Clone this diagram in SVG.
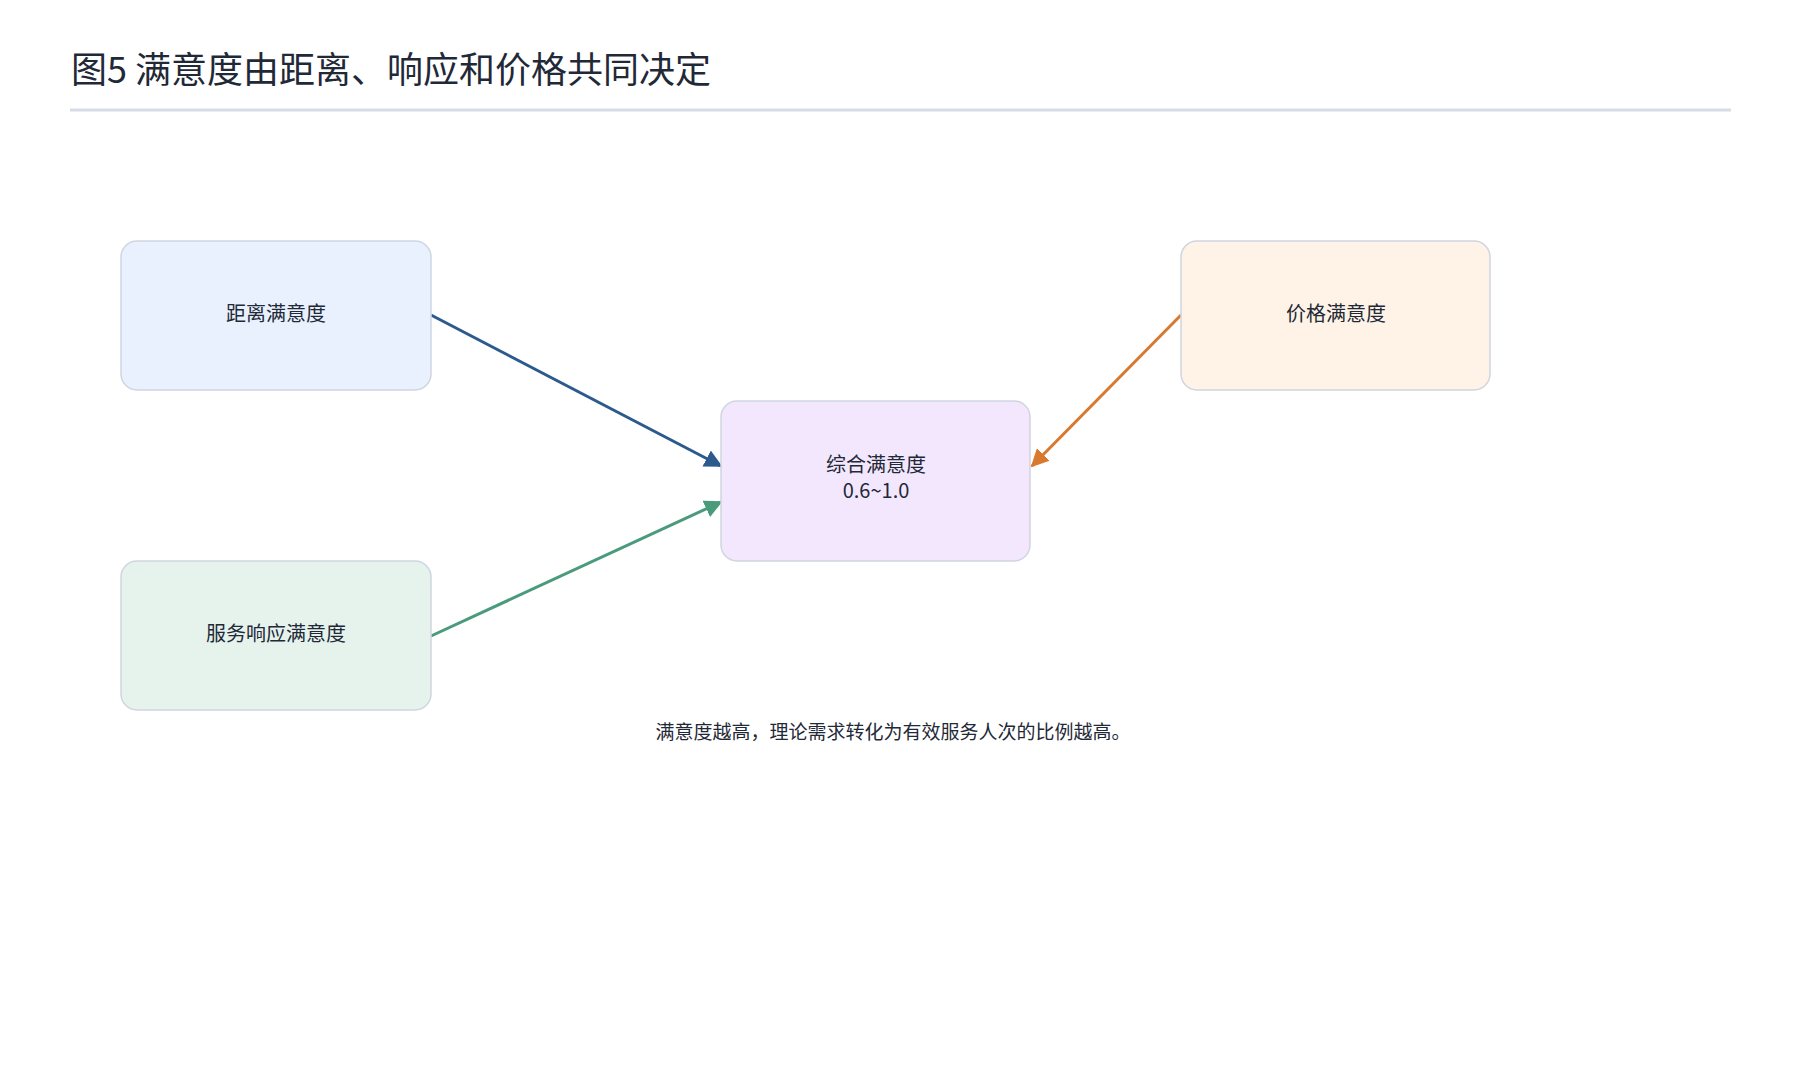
<svg xmlns="http://www.w3.org/2000/svg" width="1800" height="1080" viewBox="0 0 1800 1080">
<style>
text{font-family:"Noto Sans CJK SC","Noto Sans",sans-serif;fill:#1f2937}
.n{font-size:20px;text-anchor:middle}
.box{stroke:#cfd5e0;stroke-width:1.5}
.e{fill:none;stroke-width:3}
</style>
<defs>
<marker id="mb" viewBox="0 0 10 10" refX="9" refY="5" markerWidth="6" markerHeight="6" orient="auto"><path d="M0,0L10,5L0,10z" fill="#2c5a8c"/></marker>
<marker id="mg" viewBox="0 0 10 10" refX="9" refY="5" markerWidth="6" markerHeight="6" orient="auto"><path d="M0,0L10,5L0,10z" fill="#4a9a7c"/></marker>
<marker id="mo" viewBox="0 0 10 10" refX="9" refY="5" markerWidth="6" markerHeight="6" orient="auto"><path d="M0,0L10,5L0,10z" fill="#d9782f"/></marker>
</defs>
<rect width="1800" height="1080" fill="#fff"/>
<text x="71" y="83" font-size="36">图5 满意度由距离、响应和价格共同决定</text>
<line x1="70" y1="110" x2="1731" y2="110" stroke="#d6dbe5" stroke-width="3"/>
<g id="edges">
<line class="e" x1="431" y1="315" x2="721" y2="466" stroke="#2c5a8c" marker-end="url(#mb)"/>
<line class="e" x1="431" y1="636" x2="721" y2="502" stroke="#4a9a7c" marker-end="url(#mg)"/>
<line class="e" x1="1181" y1="315" x2="1032" y2="466" stroke="#d9782f" marker-end="url(#mo)"/>
</g>
<g id="n1"><rect class="box" x="121" y="241" width="310" height="149" rx="16" fill="#e8f1fd"/><text class="n" x="276" y="321">距离满意度</text></g>
<g id="n2"><rect class="box" x="121" y="561" width="310" height="149" rx="16" fill="#e6f3ed"/><text class="n" x="276" y="641">服务响应满意度</text></g>
<g id="n3"><rect class="box" x="721" y="401" width="309" height="160" rx="16" fill="#f3e7fd"/><text class="n" x="876" y="472">综合满意度</text><text class="n" x="876" y="498">0.6~1.0</text></g>
<g id="n4"><rect class="box" x="1181" y="241" width="309" height="149" rx="16" fill="#fef3e6"/><text class="n" x="1336" y="321">价格满意度</text></g>
<text x="893" y="739" font-size="19" text-anchor="middle">满意度越高，理论需求转化为有效服务人次的比例越高。</text>
</svg>
